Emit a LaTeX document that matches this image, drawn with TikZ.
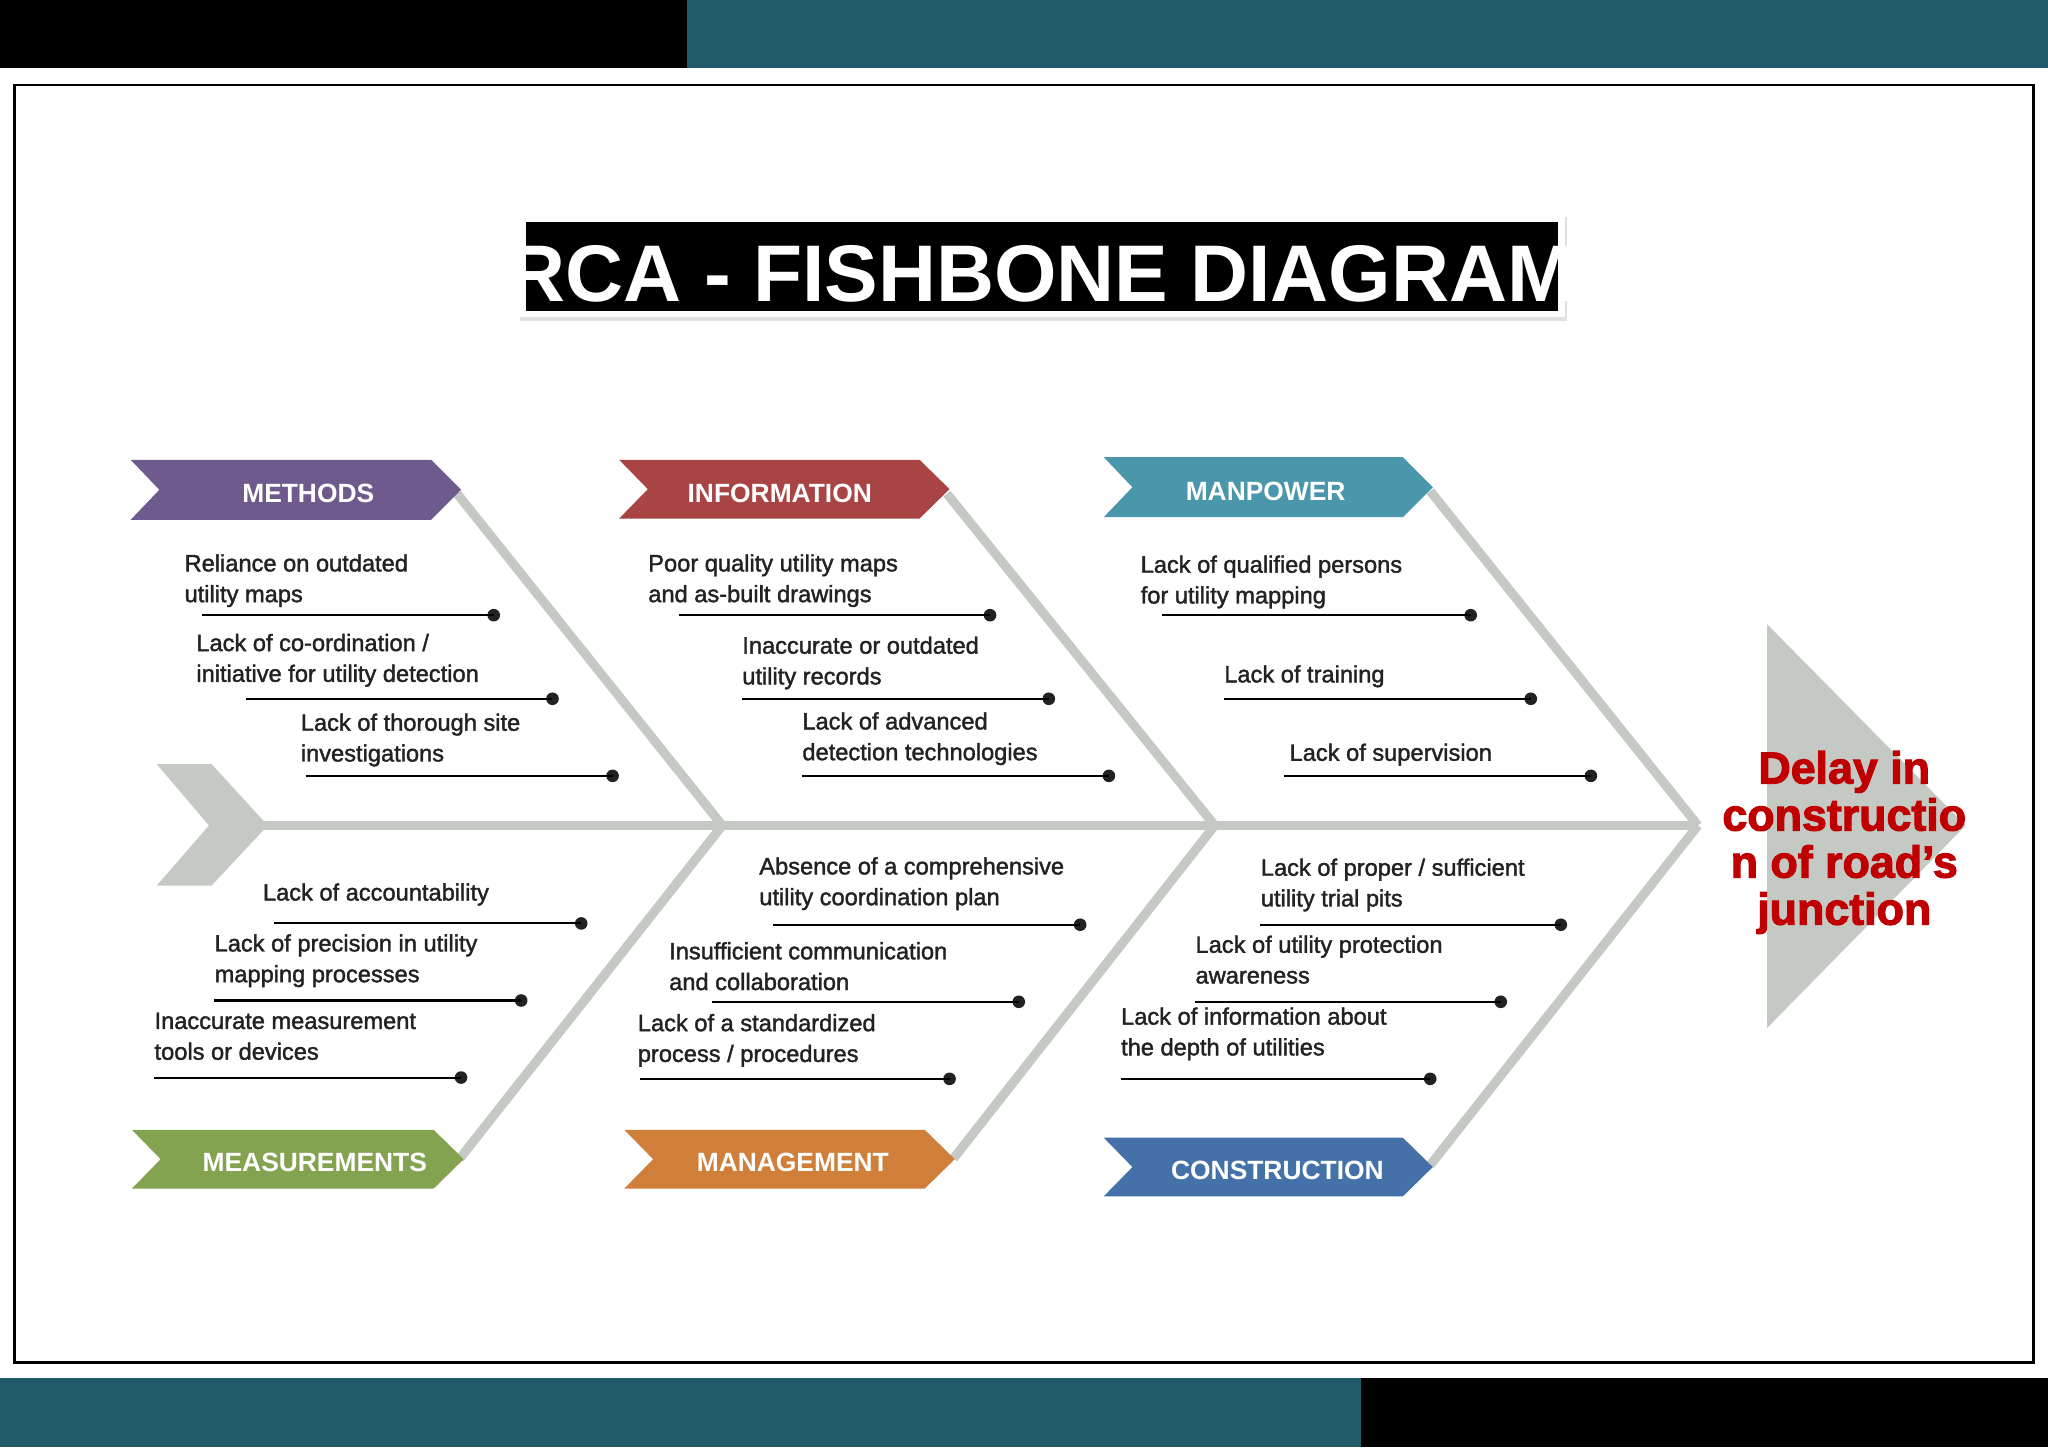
\documentclass[tikz,border=0pt]{standalone}
\usepackage{fontspec}
\setmainfont{Liberation Sans}
\newfontfamily\ctf{Liberation Sans}[BoldFont={Liberation Sans},BoldFeatures={FakeBold=1.6}]
\newfontfamily\efff{Liberation Sans}[BoldFont={Liberation Sans Bold},BoldFeatures={FakeBold=2.5}]
\definecolor{teal}{HTML}{215B6A}
\definecolor{bone}{HTML}{C4C9C4}
\definecolor{txt}{HTML}{222222}
\definecolor{cmeth}{HTML}{6F5A8E}
\definecolor{cinfo}{HTML}{A84444}
\definecolor{cman}{HTML}{4A97AB}
\definecolor{cmeas}{HTML}{84A350}
\definecolor{cmgmt}{HTML}{D07F3A}
\definecolor{ccons}{HTML}{4472A8}
\definecolor{effred}{HTML}{C00000}
\tikzset{
  bonel/.style={draw=bone,line width=4pt},
  ctext/.style={anchor=north west,inner sep=0pt,align=left,text=txt,font=\ctf\bfseries\fontsize{10.3}{13.4}\selectfont},
  uline/.style={draw=black,line width=0.9pt},
  dotc/.style={circle,fill=txt,inner sep=0pt,minimum size=5.5pt},
  lbl/.style={text=white,font=\bfseries\fontsize{11.5}{13}\selectfont}
}
\newcommand{\cause}[7]{%
  \node[ctext] (#1t) at (#2,#3-11) {#4};
  \coordinate (#1a) at (#5,#7);
  \node[dotc] (#1d) at (#6,#7) {};
  \draw[uline] (#1a) -- (#1d.center);
}
\newcommand{\lab}[6]{% name x1 x2 ytop ybot color
  \fill[#6] (#2,#4) -- (#3-23,#4) -- (#3,{(#4+#5)/2}) -- (#3-23,#5) -- (#2,#5) -- (#2+22,{(#4+#5)/2}) -- cycle;
}
\begin{document}
\begin{tikzpicture}[x=0.02cm,y=-0.02cm]
\useasboundingbox (0,0) rectangle (1568,1108);
\fill[white] (0,0) rectangle (1568,1108);
\fill[black] (0,0) rectangle (526,52);
\fill[teal] (526,0) rectangle (1568,52);
\fill[teal] (0,1055) rectangle (1042,1108);
\fill[black] (1042,1055) rectangle (1568,1108);
\draw[black,line width=1.2pt] (11,65) rectangle (1557,1043);
% title
\fill[black!12] (398,166) rectangle (1200,246);
\fill[white] (398,165) rectangle (1198,243);
\fill[black] (403,170) rectangle (1193,238);
\node[text=white,font=\bfseries\fontsize{35}{40}\selectfont,inner sep=0pt] (title) at (797,210) {RCA - FISHBONE DIAGRAM};
% head and tail
\fill[bone] (1353,478) -- (1505,632) -- (1353,787) -- cycle;
\fill[bone] (120,585) -- (162,585) -- (205,632) -- (162,678) -- (120,678) -- (160,632) -- cycle;
\coordinate (s0) at (200,632);
\coordinate (s1) at (553,632);
\coordinate (s2) at (930,632);
\coordinate (s3) at (1300,632);
\draw[bonel] (s0) -- (s3);
\coordinate (b1) at (350,378); \coordinate (b2) at (725,378); \coordinate (b3) at (1095,376);
\coordinate (b4) at (352,887); \coordinate (b5) at (730,887); \coordinate (b6) at (1095,892);
\draw[bonel] (b1) -- (s1); \draw[bonel] (b2) -- (s2); \draw[bonel] (b3) -- (s3);
\draw[bonel] (b4) -- (s1); \draw[bonel] (b5) -- (s2); \draw[bonel] (b6) -- (s3);
% labels
\lab{m}{100}{353}{352}{398}{cmeth} \node[lbl] (lm) at (236,378) {METHODS};
\lab{i}{474}{727}{352}{397}{cinfo} \node[lbl] (li) at (597,378) {INFORMATION};
\lab{p}{845}{1097}{350}{396}{cman} \node[lbl] (lp) at (969,376) {MANPOWER};
\lab{e}{101}{355}{865}{910}{cmeas} \node[lbl] (le) at (241,890) {MEASUREMENTS};
\lab{g}{478}{731}{865}{910}{cmgmt} \node[lbl] (lg) at (607,890) {MANAGEMENT};
\lab{c}{845}{1097}{871}{916}{ccons} \node[lbl] (lc) at (978,896) {CONSTRUCTION};
% effect
\node[text=effred,align=center,font=\efff\bfseries\fontsize{19.5}{20.5}\selectfont,inner sep=0pt] (eff) at (1412,645) {Delay in\\constructio\\n of road’s\\junction};
% causes
\cause{m1}{141}{435}{Reliance on outdated\\utility maps}{155}{378}{471}
\cause{m2}{150}{496}{Lack of co-ordination /\\initiative for utility detection}{188}{423}{535}
\cause{m3}{230}{557}{Lack of thorough site\\investigations}{234}{469}{594}
\cause{i1}{496}{435}{Poor quality utility maps\\and as-built drawings}{520}{758}{471}
\cause{i2}{568}{498}{Inaccurate or outdated\\utility records}{568}{803}{535}
\cause{i3}{614}{556}{Lack of advanced\\detection technologies}{614}{849}{594}
\cause{p1}{873}{436}{Lack of qualified persons\\for utility mapping}{890}{1126}{471}
\cause{p2}{937}{520}{Lack of training}{937}{1172}{535}
\cause{p3}{987}{580}{Lack of supervision}{983}{1218}{594}
\cause{e1}{201}{687}{Lack of accountability}{210}{445}{707}
\cause{e2}{164}{726}{Lack of precision in utility\\mapping processes}{164}{399}{766}
\cause{e3}{118}{786}{Inaccurate measurement\\tools or devices}{118}{353}{825}
\cause{g1}{581}{667}{Absence of a comprehensive\\utility coordination plan}{592}{827}{708}
\cause{g2}{512}{732}{Insufficient communication\\and collaboration}{545}{780}{767}
\cause{g3}{488}{787}{Lack of a standardized\\process / procedures}{490}{727}{826}
\cause{c1}{965}{668}{Lack of proper / sufficient\\utility trial pits}{965}{1195}{708}
\cause{c2}{915}{727}{Lack of utility protection\\awareness}{915}{1149}{767}
\cause{c3}{858}{782}{Lack of information about\\the depth of utilities}{858}{1095}{826}
\end{tikzpicture}
\end{document}
